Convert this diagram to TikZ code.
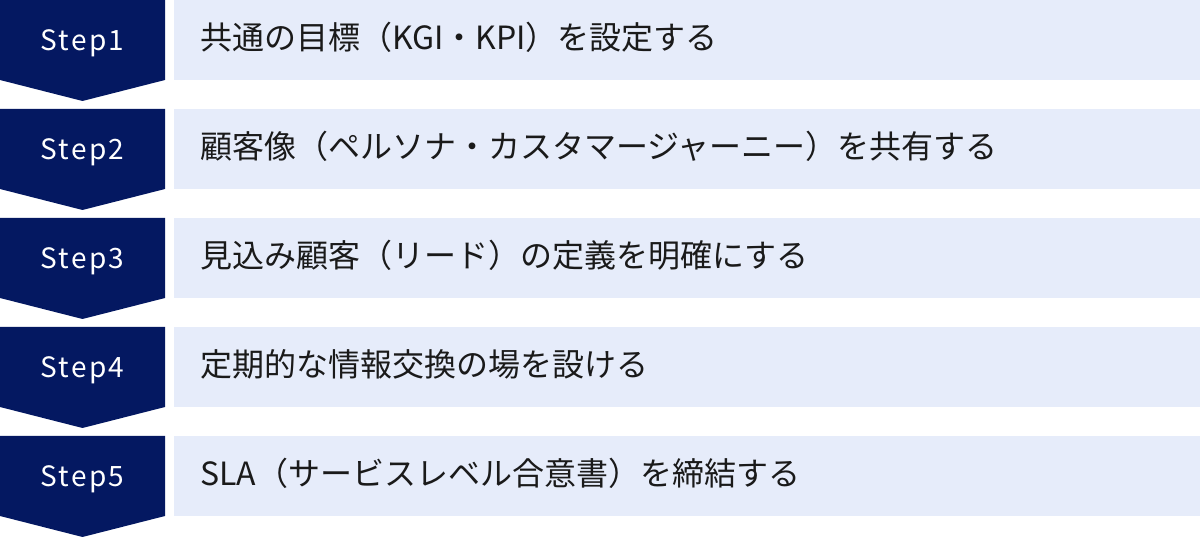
\documentclass[tikz,border=0pt]{standalone}
\usepackage{fontspec}
\setmainfont{Noto Sans CJK JP}
\newfontfamily\jpfont{Noto Sans CJK JP}
\newfontfamily\stepfont[LetterSpace=8]{Noto Sans CJK JP}
\definecolor{navy}{RGB}{4,24,97}
\definecolor{lightrow}{RGB}{230,236,250}
\definecolor{textdark}{RGB}{26,26,26}
\begin{document}
\begin{tikzpicture}[x=1pt,y=1pt,
  stepshape/.style={fill=navy},
  rowbox/.style={fill=lightrow},
  steplabel/.style={text=white, font=\stepfont\fontsize{28}{30}\selectfont, inner sep=0pt, anchor=base},
  rowlabel/.style={text=textdark, font=\jpfont\fontsize{32}{38}\selectfont, inner sep=0pt, anchor=base west}]
\useasboundingbox (0,0) rectangle (1200,538);
\foreach \i/\txt in {1/共通の目標（KGI・KPI）を設定する,
                     2/顧客像（ペルソナ・カスタマージャーニー）を共有する,
                     3/見込み顧客（リード）の定義を明確にする,
                     4/定期的な情報交換の場を設ける,
                     5/SLA（サービスレベル合意書）を締結する} {
  \pgfmathsetmacro\t{538-109*(\i-1)}
  \fill[stepshape] (0,\t) -- (165,\t) -- (165,\t-80) -- (82.5,\t-101) -- (0,\t-80) -- cycle;
  \fill[rowbox] (174,\t) rectangle (1200,\t-80);
  \node[steplabel] (step\i) at (82.5,\t-50.7) {Step\i};
  \node[rowlabel] (text\i) at (200,\t-49.5) {\txt};
}
\end{tikzpicture}
\end{document}
